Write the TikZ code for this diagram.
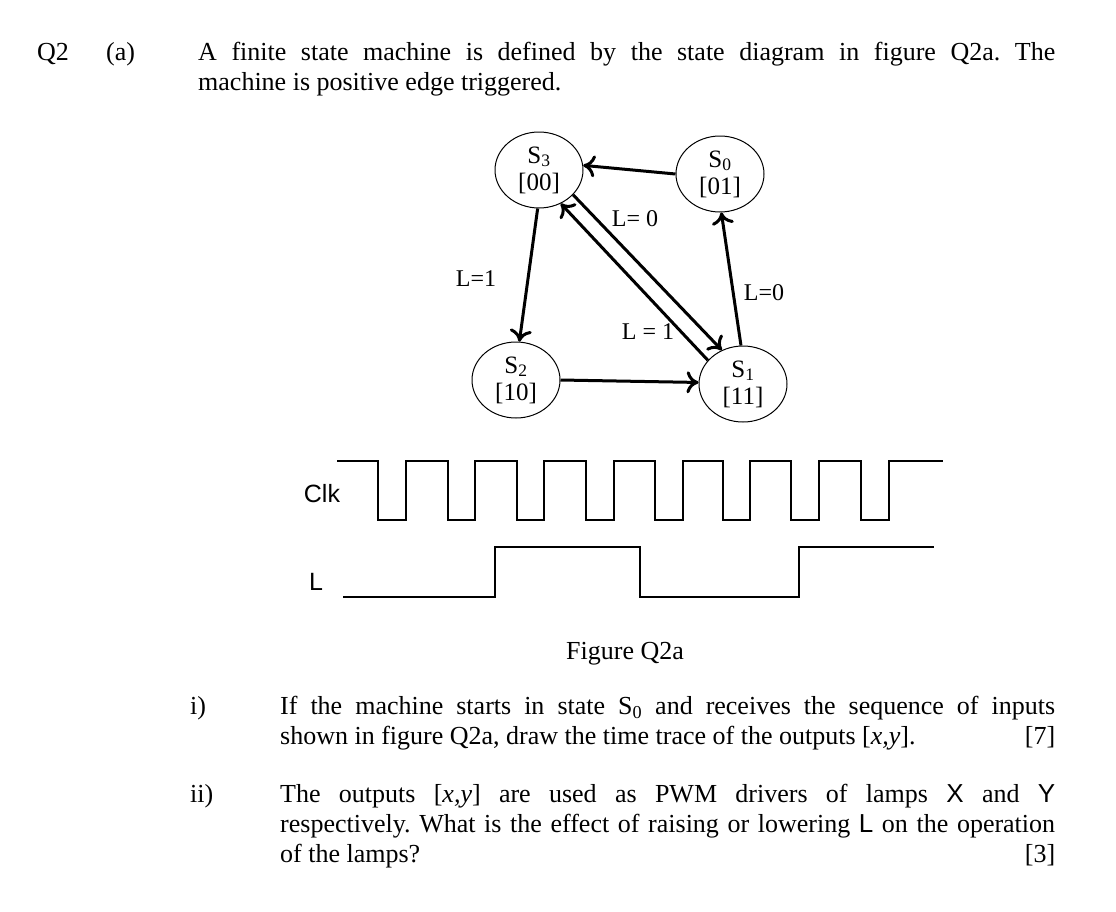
\documentclass[tikz,border=0pt]{standalone}
\usepackage{fontspec}
\setmainfont{Liberation Serif}
\newfontfamily\arial{Liberation Sans}
\usetikzlibrary{shapes.geometric,arrows.meta}
\begin{document}
\frenchspacing
\begin{tikzpicture}[x=1pt,y=-1pt,
  st/.style={ellipse,draw,line width=1pt,minimum width=88pt,minimum height=76pt,inner sep=0pt,align=center,font=\fontsize{25}{27}\selectfont},
  arr/.style={line width=3pt,-{To[length=12pt,width=22pt,line width=3pt]}},
  lab/.style={font=\fontsize{24}{26}\selectfont,inner sep=1pt},
  txt/.style={font=\fontsize{26}{30}\selectfont,anchor=north west,inner sep=0pt,align=justify},
  wave/.style={line width=2.4pt,line join=miter}]
\useasboundingbox (0,0) rectangle (1116,911);
\node[txt,text width=60pt] (q) at (37,43) {Q2};
\node[txt,text width=60pt] (a) at (106,42) {(a)};
\node[txt,text width=857pt] (p) at (198,42) {A finite state machine is defined by the state diagram in figure Q2a. The\linebreak machine is positive edge triggered.};
\node[st] (S3) at (539,170) {S\textsubscript{3}\\{}[00]};
\node[st] (S0) at (720,174) {S\textsubscript{0}\\{}[01]};
\node[st] (S2) at (516,380) {S\textsubscript{2}\\{}[10]};
\node[st] (S1) at (743,384) {S\textsubscript{1}\\{}[11]};
\draw[arr] (S0.west) -- (S3.6);
\draw[arr] (S3.-92) -- (S2.85);
\draw[arr] (S3.-36) -- (S1.122);
\draw[arr] (S1.146) -- (S3.-57);
\draw[arr] (S2.east) -- (S1.178);
\draw[arr] (S1.93) -- (S0.-88);
\node[lab] (l1) at (476,279) {L=1};
\node[lab] (l2) at (635,219) {L= 0};
\node[lab] (l3) at (648,332) {L = 1};
\node[lab] (l4) at (764,293) {L=0};
\node[font=\arial\fontsize{25}{26}\selectfont] (clk) at (322,494) {Clk};
\node[font=\arial\fontsize{25}{26}\selectfont] (lL) at (316,582) {L};
\draw[wave] (337,461) -- (378,461) -- (378,520) -- (406,520) -- (406,461)
 -- (448,461) -- (448,520) -- (475,520) -- (475,461)
 -- (517,461) -- (517,520) -- (544,520) -- (544,461)
 -- (586,461) -- (586,520) -- (614,520) -- (614,461)
 -- (655,461) -- (655,520) -- (683,520) -- (683,461)
 -- (723,461) -- (723,520) -- (750,520) -- (750,461)
 -- (791,461) -- (791,520) -- (819,520) -- (819,461)
 -- (861,461) -- (861,520) -- (889,520) -- (889,461) -- (943,461);
\draw[wave] (343,597) -- (495,597) -- (495,547) -- (640,547) -- (640,597) -- (799,597) -- (799,547) -- (934,547);
\node[font=\fontsize{26}{30}\selectfont] (cap) at (625,654) {Figure Q2a};
\node[txt,text width=60pt] (i) at (190,696) {i)};
\node[txt,text width=775pt] (it) at (280,696) {If the machine starts in state S\textsubscript{0} and receives the sequence of inputs\linebreak shown in figure Q2a, draw the time trace of the outputs [\textit{x,y}].\hfill[7]};
\node[txt,text width=60pt] (ii) at (190,784) {ii)};
\node[txt,text width=775pt] (iit) at (280,784) {The outputs [\textit{x,y}] are used as PWM drivers of lamps {\arial X} and {\arial Y}\linebreak respectively. What is the effect of raising or lowering {\arial L} on the operation\linebreak of the lamps?\hfill[3]};
\end{tikzpicture}
\end{document}
